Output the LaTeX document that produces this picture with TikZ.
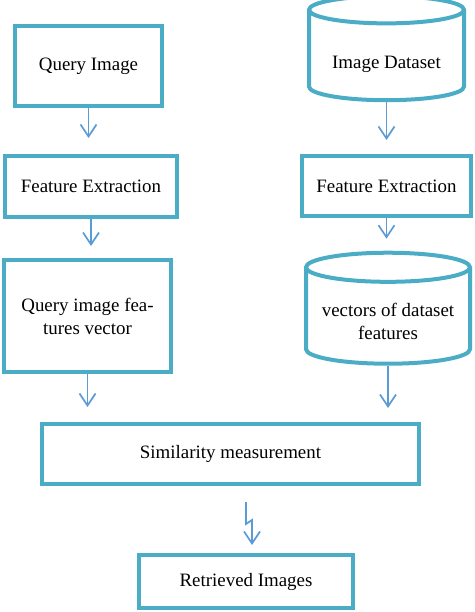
\documentclass[tikz,border=0pt]{standalone}
\usepackage{fontspec}
\setmainfont{Liberation Serif}
\usetikzlibrary{arrows.meta,shapes.geometric}
\definecolor{boxline}{HTML}{4BACC6}
\definecolor{arrowline}{HTML}{5B9BD5}
\tikzset{
    stage/.style={draw=boxline, line width=4pt, rectangle, inner sep=0pt, align=center,
        font=\fontsize{18.9}{23}\selectfont},
    store/.style={stage, cylinder, shape border rotate=90},
    flow/.style={draw=arrowline, line width=1.7pt, -{Straight Barb[length=12pt,width=16pt]}}
}
\begin{document}
\begin{tikzpicture}[x=1pt,y=-1pt]
                \useasboundingbox (0,0) rectangle (474,612);

                \node[stage, minimum width=147pt, minimum height=80pt] (qimg) at (88.5,66) {Query Image};
                \node[stage, minimum width=172pt, minimum height=61pt] (fextl) at (91,186.5) {Feature Extraction};
                \node[stage, minimum width=167pt, minimum height=112pt] (qvec) at (87.5,316) {Query image fea-\\tures vector};

                \node[store, aspect=0.25, minimum width=155pt, minimum height=104pt] (dset) at (386.5,56) {\raisebox{-8pt}[\height][\depth]{Image Dataset}};
                \node[stage, minimum width=169pt, minimum height=60pt] (fextr) at (386.5,186) {Feature Extraction};
                \node[store, aspect=0.22, minimum width=164pt, minimum height=111pt] (dvec) at (388,316.5) {\raisebox{-7pt}[\height][\depth]{\begin{tabular}{@{}c@{}}vectors of dataset\\features\end{tabular}}};

                \node[stage, minimum width=377pt, minimum height=60pt] (simm) at (230.5,454) {Similarity measurement};
                \node[stage, minimum width=214pt, minimum height=53pt] (retr) at (246,581.5) {Retrieved Images};

                \draw[flow, shorten >=16pt] (qimg.south) -- (qimg.south |- fextl.north);
                \draw[flow, shorten >=12pt] (fextl.south) -- (fextl.south |- qvec.north);
                \draw[flow, shorten >=15pt] (qvec.south) -- (qvec.south |- simm.north);

                \draw[flow, shorten >=14pt] (dset.south) -- (dset.south |- fextr.north);
                \draw[flow, shorten >=12pt] (fextr.south) -- (fextr.south |- dvec.north);
                \draw[flow, shorten >=14pt] (dvec.south) -- (dvec.south |- simm.north);

                \draw[flow, shorten <=16pt] (retr.north |- simm.south) -- ++(0,38) -- ++(6,-4) -- ++(0,25);

            \end{tikzpicture}
\end{document}
